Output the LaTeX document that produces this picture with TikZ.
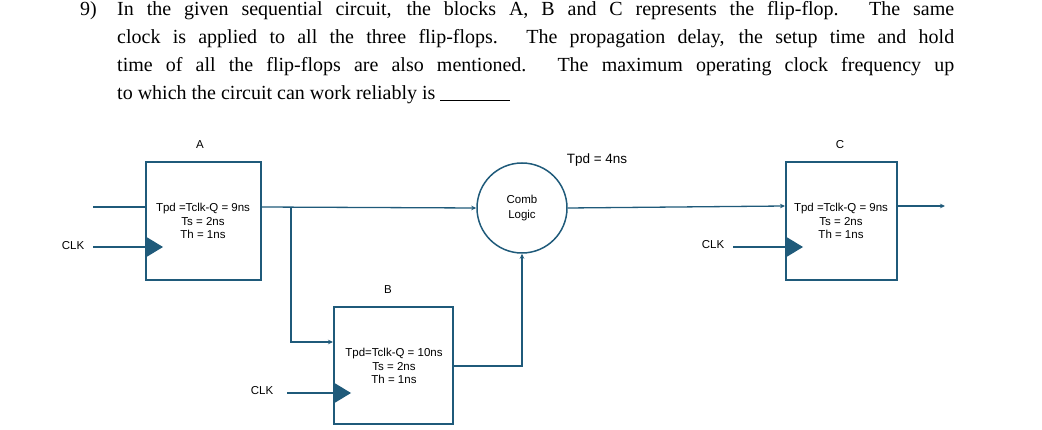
\documentclass[tikz,border=0pt]{standalone}
\usepackage{fontspec}
\setmainfont{Liberation Sans}
\newfontfamily\qserif{Liberation Serif}
\usetikzlibrary{arrows.meta}
\definecolor{wc}{RGB}{31,90,122}
\begin{document}
\begin{tikzpicture}[x=1pt,y=-1pt,
  ff/.style={draw=wc,line width=1.5pt},
  wire/.style={draw=wc,line width=1.3pt},
  arr/.style={wire,-{Stealth[length=5pt,width=4.5pt]}},
  lbl/.style={font=\fontsize{11.5}{13.5}\selectfont,inner sep=0pt},
  tri/.style={fill=wc,draw=none},
  q/.style={inner sep=0pt,font=\qserif\fontsize{20}{28}\selectfont}]
\useasboundingbox (0,0) rectangle (1042,430);
\node[q,anchor=north west] (qn) at (80,1) {9)};
\node[q,anchor=north west,text width=837pt,align=justify] (q) at (117,1)
{In the given sequential circuit, the blocks A, B and C represents the flip-flop. The same\linebreak clock is applied to all the three flip-flops. The propagation delay, the setup time and hold\linebreak time of all the flip-flops are also mentioned. The maximum operating clock frequency up\linebreak to which the circuit can work reliably is \rule[-2pt]{70pt}{0.8pt}};
% boxes
\draw[ff] (146,162) rectangle (261,280);
\draw[ff] (334,307) rectangle (453,424);
\draw[ff] (786,162) rectangle (897,280);
\node[lbl,align=center] (At) at (203,221) {Tpd =Tclk-Q = 9ns\\Ts = 2ns\\Th = 1ns};
\node[lbl,align=center] (Bt) at (394,366) {Tpd=Tclk-Q = 10ns\\Ts = 2ns\\Th = 1ns};
\node[lbl,align=center] (Ct) at (841,221) {Tpd =Tclk-Q = 9ns\\Ts = 2ns\\Th = 1ns};
\node[lbl] (An) at (200,145) {A};
\node[lbl] (Bn) at (388,290) {B};
\node[lbl] (Cn) at (840,145) {C};
% clock triangles
\fill[tri] (146.5,237) -- (163,247) -- (146.5,257) -- cycle;
\fill[tri] (334.5,383) -- (351,393) -- (334.5,403) -- cycle;
\fill[tri] (786.5,237) -- (803,247) -- (786.5,257) -- cycle;
\node[lbl] (ck1) at (73,246) {CLK};
\node[lbl] (ck2) at (262,391) {CLK};
\node[lbl] (ck3) at (713,245) {CLK};
\draw[wire] (93,247) -- (146,247);
\draw[wire] (287,393) -- (334,393);
\draw[wire] (733,247) -- (786,247);
% comb logic
\node[draw=wc,line width=1.5pt,circle,minimum size=90pt,inner sep=0pt,align=center,font=\fontsize{11.5}{15}\selectfont] (cl) at (522,208) {Comb\\Logic};
\node[font=\fontsize{13.5}{15}\selectfont,inner sep=0pt] (tpd) at (597,160) {Tpd = 4ns};
% wires
\draw[wire] (93,207) -- (146,207);
\draw[arr] (261,207) -- (cl.west);
\coordinate (br) at (291,207);
\draw[arr] (br) |- (333,342);
\draw[arr] (453,366) -| (cl.south);
\draw[arr] (cl.east) -- (785,206);
\draw[arr] (897,206) -- (945,206);
\end{tikzpicture}
\end{document}
